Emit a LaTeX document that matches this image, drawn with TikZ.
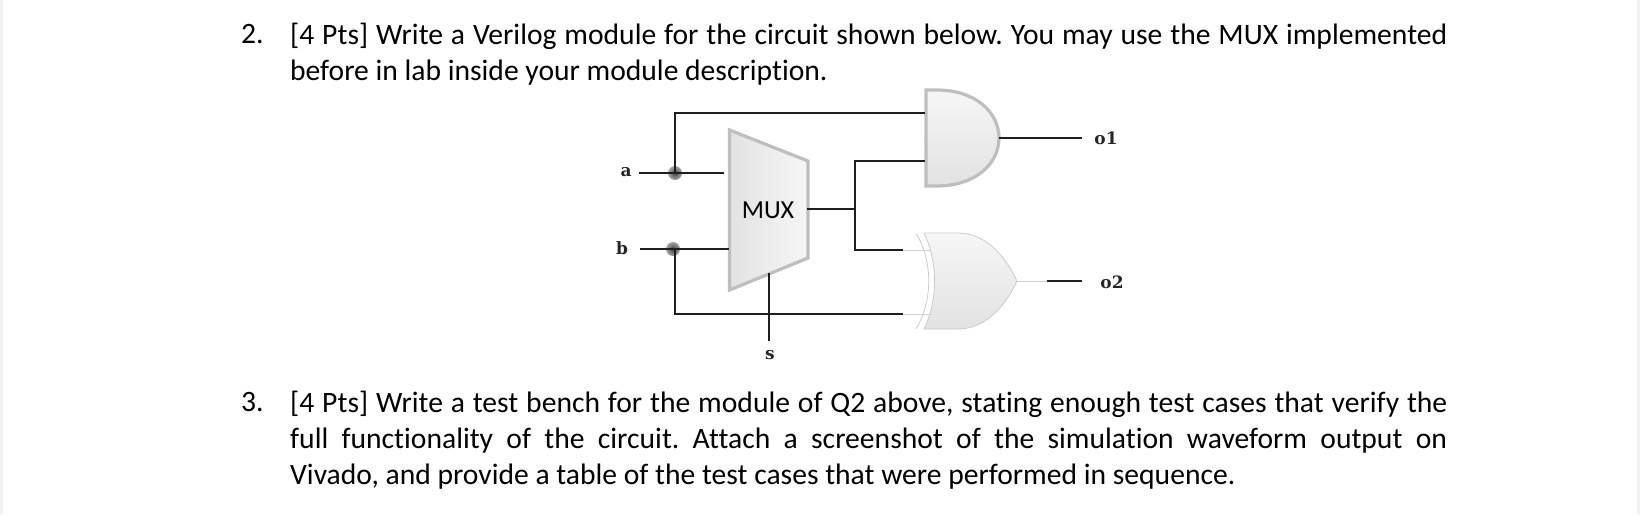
\documentclass[tikz,border=0pt]{standalone}
\usepackage{fontspec}
\setmainfont{Carlito}[RawFeature={-liga;-clig}]
\newfontfamily\pinfont{DejaVu Serif}
\definecolor{gatefill}{HTML}{E2E2E2}
\definecolor{gatelight}{HTML}{F6F6F6}
\definecolor{gateedge}{HTML}{BEBEBE}
\definecolor{wirecol}{HTML}{1E1E1E}
\tikzset{
  wire/.style={draw=wirecol,line width=2.6pt},
  fadewire/.style={draw=gateedge!70,line width=0.8pt},
  pin/.style={font=\pinfont\bfseries\fontsize{17}{17}\selectfont,text=black!85,inner sep=0pt},
  para/.style={font=\fontsize{29.6}{36}\selectfont\frenchspacing,text width=1157pt,align=justify,inner sep=0pt,anchor=north west},
  numlabel/.style={font=\fontsize{29.6}{36}\selectfont,inner sep=0pt,anchor=base west}
}
\begin{document}
\begin{tikzpicture}[x=1pt,y=-1pt]
  \useasboundingbox (0,0) rectangle (1640,514);
  \fill[black!6] (0,0) rectangle (3,514);
  \fill[black!6] (1637,0) rectangle (1640,514);
  % question text
  \node[numlabel] (num2) at (241,43.5) {2.};
  \node[para] (q2) at (290,22.8) {[4 Pts] Write a Verilog module for the circuit shown below. You may use the MUX implemented\linebreak before in lab inside your module description.};
  \node[numlabel] (num3) at (241,411.5) {3.};
  \node[para] (q3) at (290,390.8) {[4 Pts] Write a test bench for the module of Q2 above, stating enough test cases that verify the\linebreak full functionality of the circuit. Attach a screenshot of the simulation waveform output on\linebreak Vivado, and provide a table of the test cases that were performed in sequence.};
  % pins
  \node[pin] (a) at (626,172) {a};
  \node[pin] (b) at (622,248) {b};
  \node[pin] (s) at (770,355) {s};
  \node[pin] (o1) at (1106,138) {o1};
  \node[pin] (o2) at (1112,282) {o2};
  \coordinate (aw) at (639,173);
  \coordinate (bw) at (640,249);
  \coordinate (sw) at (769,341);
  \coordinate (ajoin) at (675,173);
  \coordinate (bjoin) at (675,249);
  \coordinate (atop) at (675,113);
  \coordinate (bbot) at (675,314);
  \coordinate (muxa) at (724,173);
  \coordinate (muxb) at (729,249);
  \coordinate (muxs) at (769,273);
  \coordinate (muxo) at (807,209);
  \coordinate (split) at (855,209);
  \coordinate (splitu) at (855,161);
  \coordinate (splitd) at (855,250);
  \coordinate (andu) at (925,161);
  \coordinate (andt) at (925,113);
  \coordinate (ando) at (999,138);
  \coordinate (ando1) at (1082,138);
  \coordinate (xoru) at (903,250);
  \coordinate (xord) at (903,314);
  \coordinate (xoru1) at (931,250);
  \coordinate (xord1) at (931,314);
  \coordinate (xoro) at (1017,281);
  \coordinate (xoro1) at (1047,281);
  \coordinate (xoro2) at (1082,281);
  % junctions
  \shade[inner color=black!75,outer color=black!35] (ajoin) circle (7);
  \shade[inner color=black!75,outer color=black!35] (bjoin) ++(-2,0) circle (7);
  % mux
  \path[draw=gateedge,line width=3.2pt,left color=gatefill,right color=gatelight,line join=miter]
    (729.5,130) -- (808,161) -- (808,258) -- (729.5,290) -- cycle;
  \node[font=\fontsize{26}{26}\selectfont,inner sep=0pt] (mux) at (768,210) {MUX};
  % gates
  \path[draw=gateedge,line width=3.2pt,top color=gatelight,bottom color=gatefill]
    (926,90) -- (937,90) .. controls (975,90) and (999,112) .. (999,138)
    .. controls (999,164) and (975,186) .. (937,186) -- (926,186) -- cycle;
  \path[draw=gateedge!80,line width=0.8pt,top color=gatelight,bottom color=gatefill]
    (924,233) -- (958,233) .. controls (985,233) and (1005,255) .. (1017,281)
    .. controls (1005,307) and (985,329) .. (958,329) -- (924,329)
    .. controls (938,300) and (938,262) .. (924,233) -- cycle;
  \draw[gateedge!80,line width=0.8pt] (916,233) .. controls (933,262) and (933,300) .. (916,329);
  % wires
  \draw[wire]
    (aw) -- (muxa)
    (bw) -- (muxb)
    (muxs) -- (sw)
    (muxo) -- (split)
    (ando) -- (ando1)
    (xoro1) -- (xoro2)
    (andu) -- (splitu) -- (splitd) -- (xoru)
    (ajoin) -- (atop) -- (andt)
    (bjoin) -- (bbot) -- (xord);
  \draw[fadewire]
    (xoru) -- (xoru1)
    (xord) -- (xord1)
    (xoro) -- (xoro1);
\end{tikzpicture}
\end{document}
